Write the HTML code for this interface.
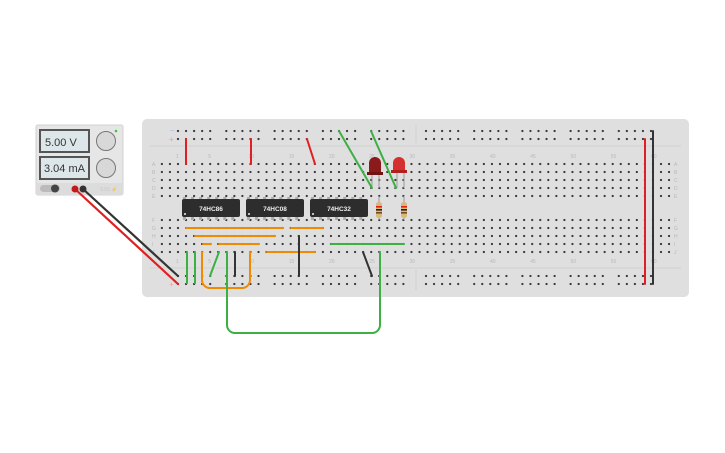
<!DOCTYPE html>
<html><head><meta charset="utf-8"><style>
html,body{margin:0;padding:0;background:#fff;width:725px;height:453px;overflow:hidden}
svg{display:block}
text{font-family:"Liberation Sans",sans-serif}
</style></head><body>
<svg id="s" width="725" height="453" viewBox="0 0 725 453" xmlns="http://www.w3.org/2000/svg">
<rect x="142" y="119" width="547" height="178" rx="5" fill="#dfdfdf"/>
<line x1="150" y1="146" x2="681" y2="146" stroke="#d2d2d2" stroke-width="1"/>
<line x1="150" y1="268" x2="681" y2="268" stroke="#d2d2d2" stroke-width="1"/>
<line x1="416" y1="125" x2="416" y2="143" stroke="#d2d2d2"/>
<line x1="416" y1="270" x2="416" y2="290" stroke="#d2d2d2"/>
<g id="dots" fill="#3a3a3a"></g>
<g id="labels" fill="#b8b8b8" font-size="5"></g>
<text x="170" y="133" font-size="8" fill="#9fb7d8">–</text>
<text x="169" y="142" font-size="8" fill="#f0a0a0">+</text>
<text x="169" y="287" font-size="8" fill="#f0a0a0">+</text>
<!-- power supply -->
<rect x="36" y="125" width="87" height="70" rx="2" fill="#e6e6e6" stroke="#d0d0d0"/>
<rect x="39" y="129" width="51" height="24" fill="#555"/>
<rect x="41" y="131" width="47" height="20" fill="#dde7ea"/>
<text x="45" y="146" font-size="11" fill="#333">5.00 V</text>
<rect x="39" y="156" width="51" height="24" fill="#555"/>
<rect x="41" y="158" width="47" height="20" fill="#dde7ea"/>
<text x="44" y="172" font-size="11" fill="#333">3.04 mA</text>
<circle cx="106" cy="141" r="9.5" fill="#d8d8d8" stroke="#777"/>
<circle cx="106" cy="168" r="9.5" fill="#d8d8d8" stroke="#777"/>
<circle cx="116" cy="131" r="1.3" fill="#3c3"/>
<rect x="36" y="183" width="87" height="12" fill="#dcdcdc"/>
<rect x="40" y="185" width="20" height="7" rx="3.5" fill="#bbb"/>
<circle cx="55" cy="188.5" r="4" fill="#444"/>
<text x="100" y="191" font-size="5" fill="#c8c8c8">SSS ⚡</text>
<g fill="none" stroke-linecap="round">
<line x1="83" y1="189" x2="178" y2="276" stroke="#333" stroke-width="2.2"/>
<line x1="75" y1="189" x2="178" y2="284" stroke="#e02020" stroke-width="2.2"/>
</g>
<circle cx="75" cy="189" r="3.5" fill="#c41a1a"/>
<circle cx="83" cy="189" r="3.5" fill="#333"/>
<g id="chips"></g>
<g stroke="#999" stroke-width="1"><line x1="372" y1="172" x2="372" y2="188"/><line x1="379" y1="172" x2="379" y2="188"/><line x1="397" y1="172" x2="397" y2="188"/><line x1="404" y1="172" x2="404" y2="188"/></g>
<path d="M369 175 V163 a6 6 0 0 1 12 0 V175 Z" fill="#8b1a1a"/>
<rect x="367" y="172" width="16" height="3" fill="#6f1313"/>
<path d="M393 173 V163 a6 6 0 0 1 12 0 V173 Z" fill="#d43030"/>
<rect x="391" y="170" width="16" height="3" fill="#b02020"/>
<g id="res"></g>
<g fill="none" stroke-width="2" stroke-linecap="round">
<line x1="186" y1="139" x2="186" y2="164" stroke="#e02020"/>
<line x1="251" y1="139" x2="251" y2="164" stroke="#e02020"/>
<line x1="307" y1="139" x2="315" y2="164" stroke="#e02020"/>
<line x1="339" y1="131" x2="372" y2="188" stroke="#3cb043"/>
<line x1="371" y1="131" x2="396" y2="188" stroke="#3cb043"/>
<line x1="645" y1="139" x2="645" y2="284" stroke="#e02020"/>
<line x1="653" y1="131" x2="653" y2="284" stroke="#333"/>
<line x1="186" y1="228" x2="283" y2="228" stroke="#f08a00"/>
<line x1="291" y1="228" x2="323" y2="228" stroke="#f08a00"/>
<line x1="195" y1="236" x2="275" y2="236" stroke="#f08a00"/>
<line x1="203" y1="244" x2="211" y2="244" stroke="#f08a00"/>
<line x1="219" y1="244" x2="259" y2="244" stroke="#f08a00"/>
<line x1="267" y1="252" x2="315" y2="252" stroke="#f08a00"/>
<line x1="331" y1="244" x2="404" y2="244" stroke="#3cb043"/>
<path d="M202 252 V280 a8 8 0 0 0 8 8 H242 a8 8 0 0 0 8 -8 V252" stroke="#f08a00"/>
<line x1="187" y1="252" x2="187" y2="283" stroke="#3cb043"/>
<line x1="195" y1="252" x2="195" y2="283" stroke="#3cb043"/>
<line x1="219" y1="252" x2="210" y2="276" stroke="#3cb043"/>
<path d="M227 252 V325 a8 8 0 0 0 8 8 H372 a8 8 0 0 0 8 -8 V252" stroke="#3cb043"/>
<line x1="235" y1="252" x2="235" y2="276" stroke="#333"/>
<line x1="299" y1="236" x2="299" y2="276" stroke="#333"/>
<line x1="363" y1="252" x2="372" y2="276" stroke="#333"/>
</g>
</svg>
<script>
var NS="http://www.w3.org/2000/svg";
function el(t,a,p){var e=document.createElementNS(NS,t);for(var k in a)e.setAttribute(k,a[k]);(p||document.getElementById('s')).appendChild(e);return e;}
var d=document.getElementById('dots'),L=document.getElementById('labels');
var P=8.05,X0=178;
var rows=[164,172,180,188,196,220,228,236,244,252];
rows.forEach(function(y){for(var i=-2;i<=61;i++){el('circle',{cx:X0+i*P,cy:y,r:1.15},d);}});
[131,139,276,284].forEach(function(y){
 for(var g=0;g<10;g++){var st=X0+g*6*P;
  if(g>=5) st=426+(g-5)*48.2;
  for(var j=0;j<5;j++)el('circle',{cx:st+j*P,cy:y,r:1.15},d);}
});
var lt="ABCDE",lb="FGHIJ";
for(var i=0;i<5;i++){
 var t=el('text',{x:152,y:rows[i]+2},L);t.textContent=lt[i];
 t=el('text',{x:674,y:rows[i]+2},L);t.textContent=lt[i];
 t=el('text',{x:152,y:rows[i+5]+2},L);t.textContent=lb[i];
 t=el('text',{x:674,y:rows[i+5]+2},L);t.textContent=lb[i];
}
[1,5,10,15,20,25,30,35,40,45,50,55,60].forEach(function(c){
 var x=X0+(c-1)*P-2;
 var t=el('text',{x:x,y:158},L);t.textContent=c;
 t=el('text',{x:x,y:263},L);t.textContent=c;
});
var C=document.getElementById('chips');
[[182,"74HC86"],[246,"74HC08"],[310,"74HC32"]].forEach(function(c){
 var x=c[0];
 for(var k=0;k<7;k++){var px=x+2.5+k*8.05;
  el('path',{d:'M'+(px-1.5)+' 197 h3 v3 h-3z',fill:'#aaa'},C);
  el('path',{d:'M'+(px-1.5)+' 217 h3 v3 h-3z',fill:'#aaa'},C);}
 el('rect',{x:x,y:199,width:58,height:18,rx:2,fill:'#2d2d2d'},C);
 el('circle',{cx:x+3,cy:214,r:1,fill:'#eee'},C);
 var t=el('text',{x:x+29,y:211,'font-size':'6.5',fill:'#eee','text-anchor':'middle','font-weight':'bold'},C);t.textContent=c[1];
});
var R=document.getElementById('res');
[379,404].forEach(function(x){
 el('line',{x1:x,y1:196,x2:x,y2:220,stroke:'#999','stroke-width':1},R);
 el('rect',{x:x-3,y:202,width:6,height:16,rx:2.5,fill:'#d9b97a'},R);
 el('rect',{x:x-3,y:206,width:6,height:1.6,fill:'#e02020'},R);
 el('rect',{x:x-3,y:209,width:6,height:1.6,fill:'#222'},R);
 el('rect',{x:x-3,y:212,width:6,height:1.6,fill:'#7a4a10'},R);
});
</script>
</body></html>
